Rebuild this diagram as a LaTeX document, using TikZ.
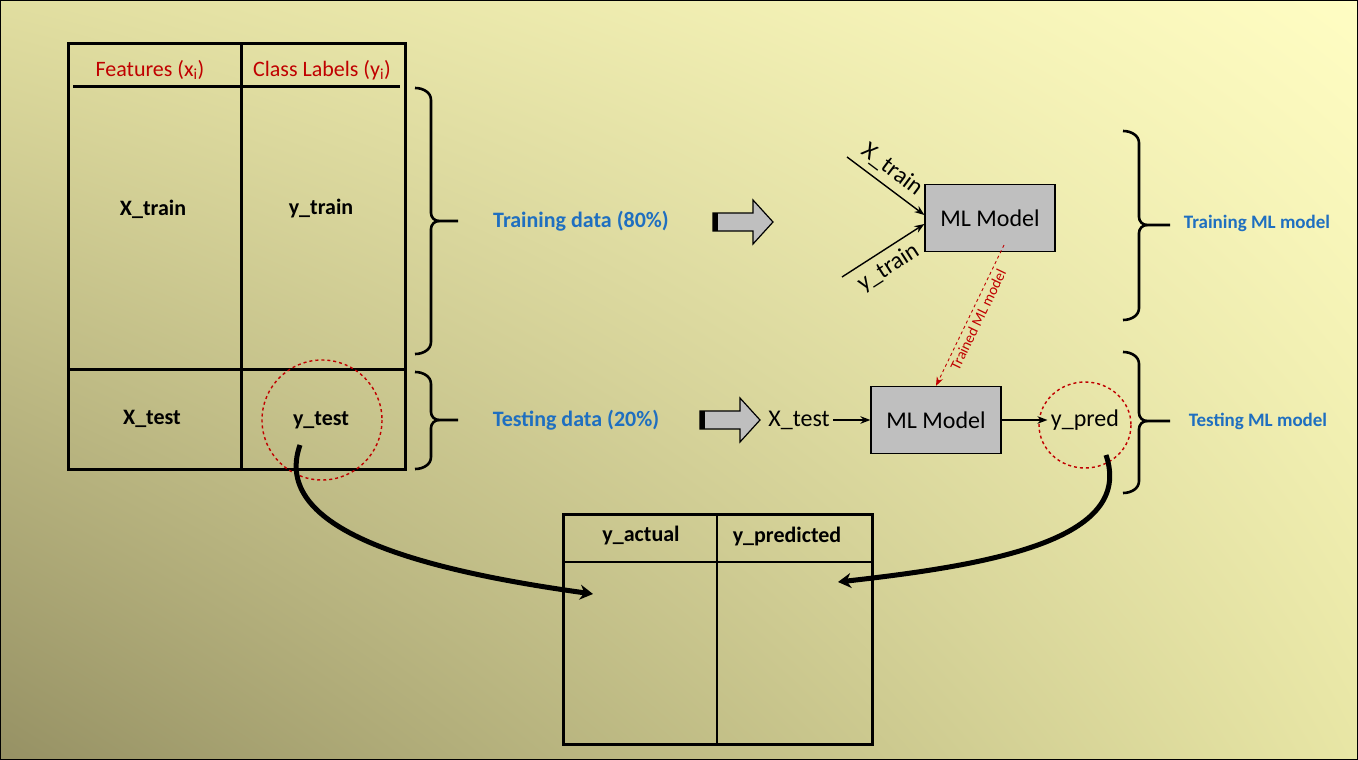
\documentclass[tikz,border=0pt]{standalone}
\usepackage{fontspec}
\setmainfont{Carlito}
\usetikzlibrary{arrows.meta,shadings}
\definecolor{bl}{RGB}{31,111,192}
\definecolor{rd}{RGB}{192,0,0}
\definecolor{cll}{RGB}{150,145,100}
\definecolor{cur}{RGB}{255,253,195}
\definecolor{cul}{RGB}{225,222,160}
\definecolor{clr}{RGB}{232,230,165}
\newcommand{\mybrace}[5]{% x, top, mid, bottom, xend
 \draw[line width=2.6pt] (#1,#2) to[out=0,in=90] (#1+16,#2+12) -- (#1+16,#3-8) to[out=-90,in=180] (#1+24,#3) -- (#5,#3);
 \draw[line width=2.6pt] (#1,#4) to[out=0,in=-90] (#1+16,#4-12) -- (#1+16,#3+8) to[out=90,in=180] (#1+24,#3);}
\newcommand{\myblk}[2]{% tail x, y
 \draw[line width=1.2pt,fill=black!25] (#1,#2-9) -- (#1+40,#2-9) -- (#1+40,#2-22) -- (#1+60,#2) -- (#1+40,#2+22) -- (#1+40,#2+9) -- (#1,#2+9) -- cycle;
 \fill (#1,#2-9) rectangle (#1+5,#2+9);}
\begin{document}
\begin{tikzpicture}[x=1pt,y=-1pt,
 tb/.style={line width=3pt},
 bt/.style={font=\bfseries\fontsize{22}{26}\selectfont},
 lab/.style={font=\bfseries\fontsize{22}{26}\selectfont,text=bl},
 box/.style={draw,fill=black!25,line width=1.2pt,minimum width=130pt,minimum height=67pt,font=\fontsize{24}{28}\selectfont},
 pl/.style={font=\fontsize{24}{28}\selectfont}]
\useasboundingbox (0,0) rectangle (1358,760);
\shade[lower left=cll,upper right=cur,upper left=cul,lower right=clr] (0,0) rectangle (1358,760);
\draw[line width=1pt] (0.5,0.5) rectangle (1357.5,759.5);
% left table
\draw[tb] (68,44) rectangle (405,469);
\draw[tb] (241,44) -- (241,469);
\draw[tb] (73,87) -- (400,87);
\draw[tb] (68,369) -- (405,369);
\node[text=rd,font=\fontsize{22}{26}\selectfont] (h1) at (150,70) {Features (x\textsubscript{i})};
\node[text=rd,font=\fontsize{22}{26}\selectfont] (h2) at (322,70) {Class Labels (y\textsubscript{i})};
\node[bt] (xtr) at (153,209) {X\_train};
\node[bt] (ytr) at (321,209) {y\_train};
\node[bt] (xte) at (152,419) {X\_test};
\node[bt] (yte) at (321,420) {y\_test};
\draw[rd,dashed,line width=1.4pt] (322,420) circle (60);
\mybrace{415}{88}{221}{354}{458}
\mybrace{415}{372}{420}{469}{458}
\node[lab] (trd) at (581,221) {Training data (80\%)};
\node[lab] (ted) at (576,420) {Testing data (20\%)};
\myblk{713}{222}
\myblk{700}{420}
% models
\node[box] (m1) at (990,218) {ML Model};
\node[box] (m2) at (936,420) {ML Model};
\coordinate (s1) at (847,157);
\coordinate (s2) at (842,277);
\draw[-{Stealth[length=10pt]},line width=1.4pt] (s1) -- (m1.west|-0,215) node[pos=0.45,sloped,above=3pt,pl] {X\_train};
\draw[-{Stealth[length=10pt]},line width=1.4pt] (s2) -- (m1.west|-0,224) node[pos=0.45,sloped,below=3pt,pl] {y\_train};
\draw[rd,dashed,line width=0.9pt,-{Stealth[length=9pt]}] (1004,245) -- (m2.north) node[pos=0.5,sloped,below,font=\fontsize{15}{18}\selectfont] {Trained ML model};
\node[pl] (xt2) at (799,420) {X\_test};
\draw[-{Stealth[length=10pt]},line width=1.8pt] (xt2.east) -- (m2.west);
\node[pl] (yp) at (1085,420) {y\_pred};
\draw[rd,dashed,line width=1.4pt] (1085,425) ellipse (46 and 43);
\draw[-{Stealth[length=10pt]},line width=1.8pt] (m2.east) -- (yp.west);
\mybrace{1123}{131}{225}{320}{1170}
\mybrace{1123}{352}{421}{493}{1170}
\node[lab,font=\bfseries\fontsize{19}{22}\selectfont] (tm) at (1257,223) {Training ML model};
\node[lab,font=\bfseries\fontsize{19}{22}\selectfont] (tt) at (1258,421) {Testing ML model};
% bottom table
\draw[tb] (563,514) rectangle (872,744);
\draw[line width=2pt] (717,514) -- (717,744);
\draw[line width=2pt] (563,562) -- (872,562);
\node[bt] (ya) at (641,536) {y\_actual};
\node[bt] (ypd) at (787,537) {y\_predicted};
\coordinate (c1) at (300,445);
\coordinate (c2) at (593,594);
\coordinate (c3) at (1106,455);
\coordinate (c4) at (838,582);
\draw[line width=5pt,-{Stealth[length=13pt,width=15pt]}] (c1) .. controls (270,530) and (420,570) .. (c2);
\draw[line width=5pt,-{Stealth[length=13pt,width=15pt]}] (c3) .. controls (1135,540) and (990,565) .. (c4);
\end{tikzpicture}
\end{document}
